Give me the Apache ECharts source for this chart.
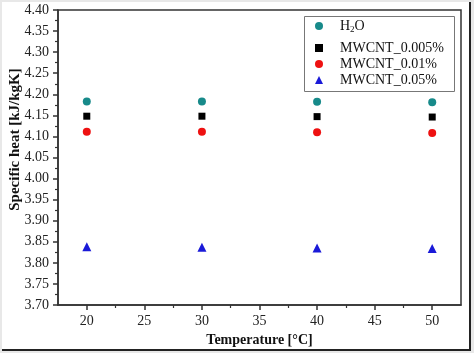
<!DOCTYPE html>
<html>
<head>
<meta charset="utf-8">
<script src="https://cdn.jsdelivr.net/npm/echarts@6/dist/echarts.min.js"></script>
<style>
  body { margin: 0; background: #e8e8e8; }
  #frame {
    position: absolute; left: 2px; top: 2px; width: 467px; height: 347px;
    background: #fff; border-right: 2px solid #222; border-bottom: 2px solid #222;
  }
  #chart { position: absolute; left: 0; top: 0; width: 474px; height: 353px; }
</style>
</head>
<body>
<div id="frame"></div>
<div id="chart"></div>
<script>
// 数据
var temps = [20, 30, 40, 50];
var water = [4.183, 4.183, 4.182, 4.181];
var cnt0005 = [4.148, 4.148, 4.147, 4.146];
var cnt001 = [4.111, 4.111, 4.110, 4.108];
var cnt005 = [3.838, 3.837, 3.835, 3.834];
var xMajorTicks = [20, 25, 30, 35, 40, 45, 50];
var xMinorTicks = [22.5, 27.5, 32.5, 37.5, 42.5, 47.5];

function pairs(ys) {
  return temps.map(function (t, i) { return [t, ys[i]]; });
}

var font = "'Liberation Serif', 'Times New Roman', serif";
var axisColor = '#333';

var chart = echarts.init(document.getElementById('chart'));

// 图例公共样式
var legendBase = {
  orient: 'vertical',
  left: 302,
  padding: [0, 0, 0, 13],
  itemGap: 0,
  itemWidth: 8, itemHeight: 8,
  textStyle: {
    fontFamily: font, fontSize: 14, color: '#111', lineHeight: 16, padding: [0, 0, 0, 12],
    rich: {
      a: { fontFamily: font, fontSize: 14, color: '#111' },
      s: { fontFamily: font, fontSize: 9, color: '#111', padding: [8, 0, 0, 0] }
    }
  },
  formatter: function (name) {
    if (name === 'H2O') return '{a|H}{s|2}{a|O}';
    return name;
  }
};

option = {
  backgroundColor: 'transparent',
  grid: {
    left: 58, right: 13, top: 10, bottom: 48,
    outerBoundsMode: 'none',
    show: true, borderColor: axisColor, borderWidth: 1.5
  },
  graphic: [
    { type: 'rect', left: 302, top: 14, shape: { width: 150, height: 75 },
      style: { fill: 'none', stroke: '#777', lineWidth: 1 }, z: 10 }
  ],
  legend: [
    Object.assign({}, legendBase, { top: 18, data: ['H2O'] }),
    Object.assign({}, legendBase, { top: 40, data: ['MWCNT_0.005%', 'MWCNT_0.01%', 'MWCNT_0.05%'] })
  ],
  xAxis: [
    {
      type: 'value', min: 17.5, max: 52.5, interval: 2.5,
      name: 'Temperature [°C]', nameLocation: 'middle', nameGap: 28,
      nameTextStyle: { fontFamily: font, fontSize: 14, fontWeight: 'bold', color: '#111' },
      axisLine: { lineStyle: { color: axisColor, width: 1.5 } },
      axisTick: { customValues: xMajorTicks, length: 5, lineStyle: { color: axisColor, width: 1.5 } },
      axisLabel: { customValues: xMajorTicks, fontFamily: font, fontSize: 14, color: '#222', margin: 9 },
      splitLine: { show: false }
    },
    {
      type: 'value', min: 17.5, max: 52.5, position: 'bottom',
      axisLine: { show: false },
      axisTick: { customValues: xMinorTicks, length: 3, lineStyle: { color: axisColor, width: 1.2 } },
      axisLabel: { show: false },
      splitLine: { show: false }
    }
  ],
  yAxis: {
    type: 'value', min: 3.7, max: 4.4, interval: 0.05,
    name: 'Specific heat [kJ/kgK]', nameLocation: 'middle', nameGap: 35,
    nameMoveOverlap: false,
    nameTextStyle: { fontFamily: font, fontSize: 15, fontWeight: 'bold', color: '#111', padding: [0, 0, 0, 36] },
    axisLine: { show: true, lineStyle: { color: axisColor, width: 1.5 } },
    axisTick: { show: true, length: 5, lineStyle: { color: axisColor, width: 1.5 } },
    minorTick: { show: true, splitNumber: 2, length: 3, lineStyle: { color: axisColor, width: 1.2 } },
    axisLabel: {
      fontFamily: font, fontSize: 14, color: '#222', margin: 9,
      formatter: function (v) { return v.toFixed(2); }
    },
    splitLine: { show: false }
  },
  series: [
    { name: 'H2O', type: 'scatter', symbol: 'circle', symbolSize: 8,
      itemStyle: { color: '#178a8a', opacity: 1 }, data: pairs(water) },
    { name: 'MWCNT_0.005%', type: 'scatter', symbol: 'rect', symbolSize: 7,
      itemStyle: { color: '#000', opacity: 1 }, data: pairs(cnt0005) },
    { name: 'MWCNT_0.01%', type: 'scatter', symbol: 'circle', symbolSize: 8,
      itemStyle: { color: '#ee1111', opacity: 1 }, data: pairs(cnt001) },
    { name: 'MWCNT_0.05%', type: 'scatter', symbol: 'triangle', symbolSize: 9,
      itemStyle: { color: '#1a1ad8', opacity: 1 }, data: pairs(cnt005) }
  ]
};
chart.setOption(option);
</script>
</body>
</html>
